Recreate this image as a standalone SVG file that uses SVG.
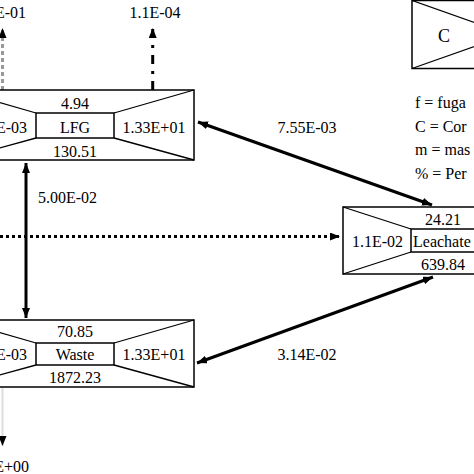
<svg xmlns="http://www.w3.org/2000/svg" width="474" height="474" viewBox="0 0 474 474">
<defs>
<marker id="ah" viewBox="0 0 10 8" refX="10" refY="4" markerWidth="10" markerHeight="8" markerUnits="userSpaceOnUse" orient="auto-start-reverse">
<path d="M0,0 L10,4 L0,8 z" fill="#000"/>
</marker>
<style>
text{font-family:"Liberation Serif","Times New Roman",serif;font-size:16px;fill:#000}
.m{text-anchor:middle}
.e{text-anchor:end}
.box{fill:#fff;stroke:#000;stroke-width:1.5}
.ln{fill:none;stroke:#000;stroke-width:1.3}
.c{fill:none;stroke:#000;stroke-width:3}
</style>
</defs>
<rect width="474" height="474" fill="#fff"/>

<g id="connectors">
<line class="c" x1="152.7" y1="90" x2="152.7" y2="28" stroke-dasharray="9,7,3,7" marker-end="url(#ah)"/>
<line x1="2.5" y1="90" x2="2.5" y2="28" stroke="#999" stroke-width="3" stroke-dasharray="4,3" marker-end="url(#ah)"/>
<line x1="2.5" y1="388" x2="2.5" y2="446" stroke="#ddd" stroke-width="2" marker-end="url(#ah)"/>
<line class="c" x1="0" y1="236.5" x2="340" y2="236.5" stroke-dasharray="3,3" marker-end="url(#ah)"/>
<line class="c" x1="26" y1="163" x2="26" y2="318" marker-start="url(#ah)" marker-end="url(#ah)"/>
<line class="c" x1="198" y1="122" x2="432" y2="205" marker-start="url(#ah)" marker-end="url(#ah)"/>
<line class="c" x1="197" y1="363" x2="433" y2="277" marker-start="url(#ah)" marker-end="url(#ah)"/>
<text x="155" y="18" class="m">1.1E-04</text>
<text x="26" y="18" class="e">E-01</text>
<text x="29" y="472" class="e">E+00</text>
<text x="38" y="203">5.00E-02</text>
<text x="307" y="133" class="m">7.55E-03</text>
<text x="307" y="360" class="m">3.14E-02</text>
</g>

<g id="lfg">
<rect class="box" x="-44" y="90" width="238" height="70"/>
<path class="ln" d="M-44,90 L36,113 M-44,160 L36,138 M194,90 L114,113 M194,160 L114,138"/>
<rect class="box" x="36" y="113" width="78" height="25"/>
<text x="75" y="109" class="m">4.94</text>
<text x="75" y="133" class="m">LFG</text>
<text x="75" y="157" class="m">130.51</text>
<text x="154" y="133" class="m">1.33E+01</text>
<text x="27" y="133" class="e">E-03</text>
</g>

<g id="waste">
<rect class="box" x="-44" y="320" width="238" height="67"/>
<path class="ln" d="M-44,320 L36,343 M-44,387 L36,365 M194,320 L114,343 M194,387 L114,365"/>
<rect class="box" x="36" y="343" width="78" height="22"/>
<text x="75" y="337" class="m">70.85</text>
<text x="75" y="360" class="m">Waste</text>
<text x="75" y="383" class="m">1872.23</text>
<text x="154" y="360" class="m">1.33E+01</text>
<text x="27" y="360" class="e">E-03</text>
</g>

<g id="leachate">
<rect class="box" x="343" y="207" width="200" height="67"/>
<path class="ln" d="M343,207 L411,229 M343,274 L411,252"/>
<rect class="box" x="411" y="229" width="64" height="23"/>
<text x="443" y="225" class="m">24.21</text>
<text x="377.5" y="247" class="m">1.1E-02</text>
<text x="413" y="247">Leachate</text>
<text x="443" y="270" class="m">639.84</text>
</g>

<g id="legend">
<rect class="box" x="412" y="0.5" width="100" height="68"/>
<path class="ln" d="M412,0.5 L480,24.5 M412,68.5 L480,44.5"/>
<text x="444" y="41.5" class="m" style="font-size:18px">C</text>
<text x="415" y="108">f = fuga</text>
<text x="415" y="132">C = Cor</text>
<text x="415" y="155">m = mas</text>
<text x="415" y="179">% = Per</text>
</g>
</svg>
